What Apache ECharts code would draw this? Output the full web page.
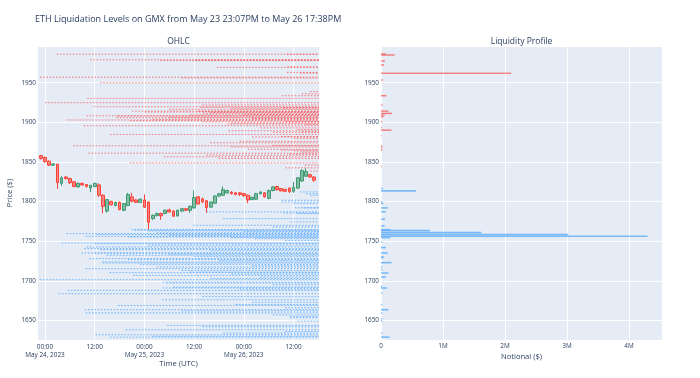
<!DOCTYPE html>
<html><head><meta charset="utf-8">
<script src="https://cdn.jsdelivr.net/npm/echarts@6/dist/echarts.min.js"></script>
<style>html,body{margin:0;padding:0;background:#fff}#c{width:700px;height:378px}</style>
</head><body><div id="c"></div>
<script>
// Hourly candles; first candle at 2023-05-23 23:00 UTC (= -1 h relative to 2023-05-24 00:00 UTC)
const candleFirstHr = -1;
const opens  = [1858,1855.5,1851,1846,1847,1823,1831,1829,1825,1818.5,1823,1821.5,1817,1819,1821,1808,1788,1800,1795,1799,1789,1795,1806,1802,1799,1802,1799.5,1778.5,1782.5,1785,1785,1789.5,1788,1782,1788,1791,1789,1792,1806,1803.5,1801,1793,1798,1807,1808,1811,1812,1811,1811,1810,1808,1802.5,1803,1810,1811,1804,1814,1819,1816.5,1815.5,1817,1813,1817,1826,1832,1834,1831];
const closes = [1854.5,1850.5,1846,1847.5,1824,1830,1829,1824,1819,1823,1821,1819,1820.5,1823,1808,1794,1802.5,1796,1799,1790,1797.5,1809,1800.5,1799,1803,1793,1774,1782.7,1785,1782,1789,1787,1781.5,1789,1791,1789,1794,1805,1797,1799.5,1792.5,1799.5,1807,1810,1815,1814,1810,1809,1809,1807.5,1802,1805.5,1810,1812,1806,1814,1818.5,1815,1813.5,1813,1812.5,1818,1830,1839,1838,1831,1827];
const lows   = [1853,1849,1845,1845,1816,1820,1828,1822,1818,1818,1820,1818,1812,1818,1806,1785,1786,1795,1794,1789,1788,1794,1799,1798,1798,1792,1765,1777,1781,1777,1784,1786,1781,1781,1787,1788,1786,1791,1796,1798,1786,1792,1797,1806,1807,1810,1809,1808,1807,1806,1798,1802,1802.5,1809,1805,1803,1813,1814,1813,1812,1811,1811,1816,1825,1831,1830,1825];
const highs  = [1859,1857,1852,1848.5,1848,1832,1832,1830,1826,1824,1824,1822,1821,1824,1823,1809,1803,1801,1800,1800,1798,1811,1811,1803,1804,1809,1800,1783.5,1786,1786,1790,1791,1789,1790,1792,1792,1795,1814,1807,1805,1802,1800,1808,1811,1819,1815,1813,1812,1812,1811,1809,1806,1811,1813,1812,1815,1819.5,1820,1817,1816,1818,1825,1831,1841,1842,1835,1832];

// Short liquidation levels (price) and the hour (after 2023-05-24 00:00 UTC) the level appears
const shortLevels  = [1986,1986,1979,1978,1978.5,1969.4,1970,1963,1962,1957,1956,1950,1938.7,1936,1933.6,1930.3,1924.8,1922,1919.7,1919,1918.5,1917,1916.5,1914.2,1914,1913,1912.5,1911.3,1910,1909.5,1908.3,1908,1906.5,1905.8,1905,1904,1903,1902,1901,1900.5,1899,1898,1897,1895.7,1893,1891,1889.4,1888,1887.5,1884.7,1882,1881.5,1879.7,1876,1874.2,1871,1870.4,1869,1866,1864.9,1864,1862.5,1861.1,1860,1858.6,1856.5,1854.4,1848.9,1846,1842.6,1838.4];
const shortStartHr = [2.8,58.4,10.9,27.8,36.2,41.5,58.5,58.4,61.6,-1.2,33,13.3,64,62,57.2,10.2,0,38,11.7,37.5,57.5,45,30,21,37,24,40,38.2,48,35,10,17.5,30,17.3,50,26,5.2,20.5,58,38,45,44,63,9.3,52,61,44.3,62,55,15.7,57,50,60,47,39.9,55,6.8,45,49,57,60,62,10.5,59,39,28.7,41.9,20.5,62.7,58,64];
// Long liquidation levels
const longLevels  = [1812.2,1810,1808,1801.7,1799.5,1797.5,1792.2,1792,1787,1785.7,1785,1778.5,1774.3,1770.1,1768,1764.6,1764,1763,1762,1760.5,1759.6,1758.3,1757.5,1756.2,1755.3,1754.5,1753.2,1751,1747.8,1746.9,1745,1742.7,1740.6,1739.3,1738,1735.1,1735,1733.5,1732.2,1730.5,1728,1727,1725.5,1723.8,1722.5,1720.8,1719,1717.4,1715.3,1713,1711,1710.3,1708.5,1706.9,1704.8,1703,1701.4,1698.5,1697.2,1695,1692.1,1691,1689.5,1687.9,1683.7,1680,1676.1,1673,1670.2,1668.9,1666,1663.5,1662,1659.5,1657,1655,1653.4,1649.2,1643.7,1642,1638.2,1636,1634,1631.9,1630,1628.9];
const longStartHr = [61.6,63,64,57.2,57.1,60,60.3,62.4,39,57.5,61,43,59.2,35.8,55,20.9,21.5,25,48,27,5.2,12.5,30,9.8,20,45,50.7,58,4,12,25,10,9.5,13.3,40,8.8,12,30,14.9,36,10.7,20,42,13.7,14,22.9,50,27,9.8,33,35,15.6,45,21.3,52,40,-1.3,28.4,29.4,55,31,28.4,47,5.5,3.3,38,28.3,50,46,17.6,58,9.6,33,9.8,55,59.2,59.1,61,29.5,38,19.5,58,43,12.2,26,15.7];

// Liquidity profile (price level, notional $)
const profShortPrice = [1986.3,1985,1977.5,1972.4,1961.9,1953.4,1933.6,1921.8,1914.2,1911.3,1909.2,1907,1900.8,1893.6,1890.2,1883.1,1870,1867.9,1864.9,1843.9];
const profShortNotional = [80000,220000,65000,50000,2100000,30000,90000,20000,120000,180000,60000,40000,20000,15000,170000,10000,20000,20000,20000,10000];
const profLongPrice = [1816.5,1813.5,1799.6,1797.5,1792,1787,1777.7,1769.3,1764.6,1763.3,1760.8,1758.3,1756.2,1754.5,1749,1741.9,1735.1,1730.1,1728.8,1722.9,1717.4,1714,1709.8,1704.8,1693,1690.9,1684.6,1670.2,1663.5,1659.3,1652.1,1649.2,1634,1628.9];
const profLongNotional = [30000,565000,20000,35000,110000,80000,65000,60000,150000,790000,1620000,3020000,4300000,150000,20000,80000,110000,50000,30000,170000,20000,20000,120000,80000,20000,100000,20000,20000,120000,20000,20000,20000,20000,140000];

// Ticks
const timeTicks = [0,12,24,36,48,60];
const timeTickLabels = ['00:00\nMay 24, 2023','12:00','00:00\nMay 25, 2023','12:00','00:00\nMay 26, 2023','12:00'];
const priceTicks = [1650,1700,1750,1800,1850,1900,1950];
const notionalTicks = [0,1000000,2000000,3000000,4000000];
const notionalTickLabels = ['0','1M','2M','3M','4M'];

const X_MIN = -1.69, X_MAX = 66.15, Y_MIN = 1625.3, Y_MAX = 1995.1, N_MAX = 4532000;
const TXT = '#2a3f5f', FONT = 'Open Sans';

const candleData = opens.map((o,i)=>[candleFirstHr+i, o, closes[i], lows[i], highs[i]]);
const shortData = shortLevels.map((p,i)=>[shortStartHr[i], p, X_MAX]);
const longData = longLevels.map((p,i)=>[longStartHr[i], p, X_MAX]);

function levelSeries(data, color){
  return {type:'custom', xAxisIndex:0, yAxisIndex:0, data, clip:true, silent:true,
    encode:{x:[0,2], y:1},
    renderItem:(params, api)=>{
      const a = api.coord([api.value(0), api.value(1)]);
      const b = api.coord([api.value(2), api.value(1)]);
      return {type:'line', shape:{x1:a[0], y1:a[1], x2:b[0], y2:b[1]},
        style:{stroke:color, lineWidth:1, lineDash:[1.6,1.6]}};
    }};
}
function profileSeries(prices, vals, color){
  return {type:'custom', xAxisIndex:1, yAxisIndex:1, silent:true,
    data: prices.map((p,i)=>[vals[i], p]), encode:{x:0, y:1},
    renderItem:(params, api)=>{
      const a = api.coord([0, api.value(1)]);
      const b = api.coord([api.value(0), api.value(1)]);
      const h = api.size([0, 2])[1];
      return {type:'rect', shape:{x:a[0], y:a[1]-h/2, width:Math.max(b[0]-a[0],0.8), height:h},
        style:{fill:color, stroke:'rgba(229,236,246,0.6)', lineWidth:0.3}};
    }};
}
const priceFmt = (v)=>String(v);

const chart = echarts.init(document.getElementById('c'), null, {renderer:'canvas'});
chart.setOption({
  animation:false,
  backgroundColor:'#fff',
  textStyle:{fontFamily:FONT},
  title:{text:'ETH Liquidation Levels on GMX from May 23 23:07PM to May 26 17:38PM', left:35, top:15, padding:0,
    textStyle:{fontSize:9, fontWeight:'normal', color:TXT, fontFamily:FONT}},
  grid:[
    {left:38, right:381, top:47, bottom:38, show:true, backgroundColor:'#E5ECF6', borderWidth:0},
    {left:381, right:38, top:47, bottom:38, show:true, backgroundColor:'#E5ECF6', borderWidth:0}
  ],
  xAxis:[
    {type:'value', gridIndex:0, min:X_MIN, max:X_MAX,
      axisLine:{show:false}, axisTick:{show:false, customValues:timeTicks},
      splitLine:{show:true, lineStyle:{color:'#fff', width:1}},
      axisLabel:{customValues:timeTicks, color:TXT, fontSize:6.4, lineHeight:8, margin:3, fontFamily:FONT,
        formatter:(v)=>{const k=timeTicks.indexOf(v); return k>=0?timeTickLabels[k]:'';}}},
    {type:'value', gridIndex:1, min:0, max:N_MAX,
      axisLine:{show:false}, axisTick:{show:false, customValues:notionalTicks},
      splitLine:{show:true, lineStyle:{color:'#fff', width:1}},
      axisLabel:{customValues:notionalTicks, color:TXT, fontSize:6.4, margin:3, fontFamily:FONT,
        formatter:(v)=>{const k=notionalTicks.indexOf(v); return k>=0?notionalTickLabels[k]:'';}}}
  ],
  yAxis:[
    {type:'value', gridIndex:0, min:Y_MIN, max:Y_MAX,
      axisLine:{show:false}, axisTick:{show:false, customValues:priceTicks},
      splitLine:{show:true, lineStyle:{color:'#fff', width:1}},
      axisLabel:{customValues:priceTicks, color:TXT, fontSize:6.4, margin:2, fontFamily:FONT, formatter:priceFmt}},
    {type:'value', gridIndex:1, min:Y_MIN, max:Y_MAX,
      axisLine:{show:false}, axisTick:{show:false, customValues:priceTicks},
      splitLine:{show:true, lineStyle:{color:'#fff', width:1}},
      axisLabel:{customValues:priceTicks, color:TXT, fontSize:6.4, margin:2, fontFamily:FONT, formatter:priceFmt}}
  ],
  graphic:[
    {type:'text', x:178.5, y:42, style:{text:'OHLC', fill:TXT, font:'8.5px "Open Sans"', textAlign:'center', textVerticalAlign:'middle'}},
    {type:'text', x:521.5, y:42, style:{text:'Liquidity Profile', fill:TXT, font:'8.5px "Open Sans"', textAlign:'center', textVerticalAlign:'middle'}},
    {type:'text', x:178.5, y:364, style:{text:'Time (UTC)', fill:TXT, font:'7.6px "Open Sans"', textAlign:'center', textVerticalAlign:'middle'}},
    {type:'text', x:521.5, y:357, style:{text:'Notional ($)', fill:TXT, font:'7.6px "Open Sans"', textAlign:'center', textVerticalAlign:'middle'}},
    {type:'text', x:10, y:193, rotation:Math.PI/2, style:{text:'Price ($)', fill:TXT, font:'7.6px "Open Sans"', textAlign:'center', textVerticalAlign:'middle'}}
  ],
  series:[
    levelSeries(shortData, 'rgba(255,30,30,0.55)'),
    levelSeries(longData, 'rgba(30,144,255,0.6)'),
    {type:'candlestick', xAxisIndex:0, yAxisIndex:0, data:candleData, barWidth:3.2,
      encode:{x:0, y:[1,2,3,4]},
      itemStyle:{color:'rgba(61,153,112,0.6)', borderColor:'#3D9970', color0:'rgba(255,65,54,0.6)', borderColor0:'#FF4136', borderWidth:1}},
    profileSeries(profShortPrice, profShortNotional, 'rgba(255,40,40,0.6)'),
    profileSeries(profLongPrice, profLongNotional, 'rgba(30,144,255,0.6)')
  ]
});
</script></body></html>
